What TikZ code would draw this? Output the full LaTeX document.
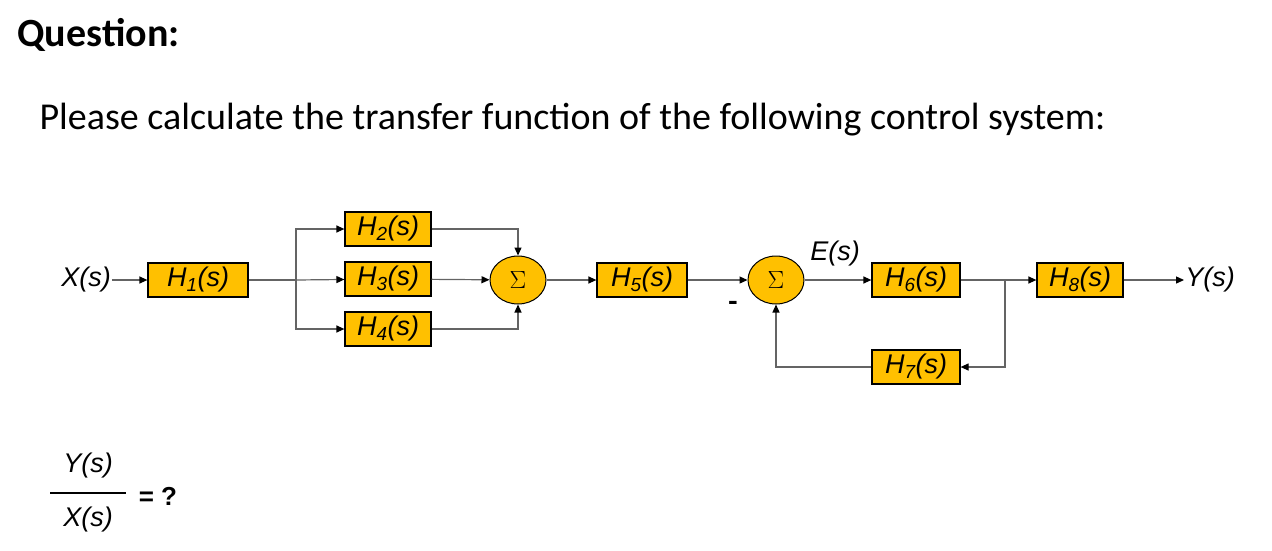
\documentclass[tikz,border=0pt]{standalone}
\usepackage{fontspec}
\setmainfont{Carlito}
\newfontfamily\arialf{Liberation Sans}
\usetikzlibrary{arrows.meta,shapes.geometric}
\begin{document}
\begin{tikzpicture}[x=1pt,y=-1pt,
 blk/.style={draw=black,fill={rgb,255:red,255;green,192;blue,0},line width=1.2pt,minimum width=86pt,minimum height=34pt,inner sep=0pt,font=\arialf\itshape\fontsize{27}{29}\selectfont},
 sig/.style={ellipse,draw=black,fill={rgb,255:red,255;green,192;blue,0},line width=1pt,minimum width=56pt,minimum height=48pt,inner sep=0pt,font=\fontsize{24}{26}\selectfont},
 ln/.style={draw={rgb,255:red,100;green,100;blue,100},line width=1.2pt},
 ar/.style={ln,-{Triangle[length=8pt,width=7pt,color=black]}},
 lab/.style={font=\arialf\itshape\fontsize{27}{29}\selectfont,inner sep=1pt}]
\useasboundingbox (0,0) rectangle (1272,550);
\node[anchor=west,font=\bfseries\fontsize{40}{44}\selectfont] (q) at (14,35) {Question:};
\node[anchor=west,font=\fontsize{38}{42}\selectfont] (p) at (36,120) {Please calculate the transfer function of the following control system:};
\node[lab] (x) at (86,280) {X(s)};
\node[blk,minimum width=100pt] (h1) at (198,280) {H\textsubscript{1}(s)};
\node[blk] (h2) at (388,229) {H\textsubscript{2}(s)};
\node[blk] (h3) at (388,279) {H\textsubscript{3}(s)};
\node[blk] (h4) at (388,329) {H\textsubscript{4}(s)};
\node[sig] (s1) at (518,280) {$\Sigma$};
\node[blk,minimum width=90pt] (h5) at (642,280) {H\textsubscript{5}(s)};
\node[sig] (s2) at (776,280) {$\Sigma$};
\node[lab] (e) at (835,254) {E(s)};
\node[blk,minimum width=88pt] (h6) at (916,280) {H\textsubscript{6}(s)};
\node[blk,minimum width=88pt] (h7) at (916,367) {H\textsubscript{7}(s)};
\node[blk] (h8) at (1080,280) {H\textsubscript{8}(s)};
\node[lab] (y) at (1210,280) {Y(s)};
\node[font=\bfseries\fontsize{30}{30}\selectfont] (m) at (733,306) {-};
\coordinate (b1) at (296,280);
\coordinate (b2) at (1005,280);
\draw[ar] (x) -- (h1);
\draw[ln] (h1) -- (b1);
\draw[ar] (b1) -- (h3);
\draw[ar] (b1) |- (h2);
\draw[ar] (b1) |- (h4);
\draw[ar] (h2) -| (s1);
\draw[ar] (h4) -| (s1);
\draw[ar] (h3) -- (s1);
\draw[ar] (s1) -- (h5);
\draw[ar] (h5) -- (s2);
\draw[ar] (s2) -- (h6);
\draw[ln] (h6) -- (b2);
\draw[ar] (b2) -- (h8);
\draw[ar] (b2) |- (h7);
\draw[ar] (h7) -| (s2);
\draw[ar] (h8) -- (y);
\node[lab] (fy) at (88,466) {Y(s)};
\node[lab] (fx) at (88,520) {X(s)};
\coordinate (f1) at (50,493);
\coordinate (f2) at (126,493);
\draw[line width=1.5pt] (f1) -- (f2);
\node[font=\arialf\bfseries\fontsize{26}{28}\selectfont] (eq) at (158,496) {= ?};
\end{tikzpicture}
\end{document}
